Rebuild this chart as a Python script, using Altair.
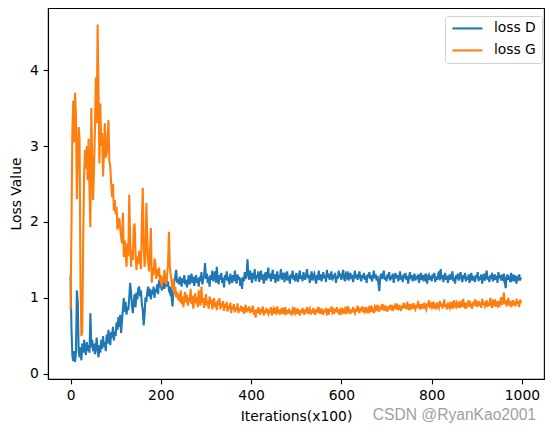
import altair as alt
import pandas as pd

# iterations (x100), sampled every 2 steps
ITER = list(range(0, 1000, 2))

LOSS_D = [
    1.30, 0.60, 0.25, 0.17, 0.30, 0.16, 0.28, 1.10, 0.95, 0.30,
    0.22, 0.35, 0.18, 0.40, 0.28, 0.45, 0.33, 0.25, 0.42, 0.30,
    0.38, 0.28, 0.80, 0.35, 0.45, 0.30, 0.40, 0.26, 0.36, 0.48,
    0.30, 0.22, 0.38, 0.28, 0.45, 0.33, 0.50, 0.36, 0.42, 0.30,
    0.52, 0.40, 0.58, 0.45, 0.38, 0.55, 0.48, 0.62, 0.44, 0.56,
    0.50, 0.68, 0.58, 0.75, 0.62, 0.78, 0.54, 0.70, 0.85, 1.00,
    0.82, 0.95, 0.78, 0.88, 0.84, 1.00, 1.20, 1.08, 0.90, 0.80,
    0.95, 1.05, 0.88, 1.07, 0.98, 1.12, 1.15, 1.02, 1.10, 0.92,
    0.85, 0.64, 0.78, 1.01, 0.95, 1.08, 1.15, 1.02, 1.12, 0.98,
    1.10, 1.05, 1.15, 1.00, 1.12, 1.08, 1.18, 1.05, 1.24, 1.14,
    1.20, 1.10, 1.15, 1.24, 1.12, 1.18, 1.28, 1.15, 1.22, 1.10,
    1.07, 1.15, 1.00, 0.89, 1.10, 1.22, 1.28, 1.37, 1.20, 1.25,
    1.18, 1.28, 1.22, 1.15, 1.26, 1.20, 1.30, 1.18, 1.24, 1.14,
    1.22, 1.30, 1.18, 1.25, 1.32, 1.20, 1.28, 1.16, 1.24, 1.30,
    1.20, 1.26, 1.15, 1.28, 1.22, 1.34, 1.18, 1.25, 1.30, 1.46,
    1.25, 1.32, 1.20, 1.28, 1.15, 1.30, 1.24, 1.36, 1.22, 1.28,
    1.35, 1.20, 1.41, 1.26, 1.18, 1.30, 1.24, 1.33, 1.20, 1.27,
    1.14, 1.30, 1.24, 1.35, 1.22, 1.28, 1.18, 1.32, 1.26, 1.20,
    1.30, 1.22, 1.36, 1.25, 1.19, 1.31, 1.24, 1.28, 1.16, 1.26,
    1.12, 1.28, 1.22, 1.34, 1.25, 1.30, 1.51, 1.30, 1.24, 1.36,
    1.28, 1.20, 1.33, 1.25, 1.38, 1.22, 1.30, 1.26, 1.35, 1.21,
    1.29, 1.36, 1.24, 1.31, 1.19, 1.28, 1.34, 1.23, 1.30, 1.40,
    1.26, 1.32, 1.22, 1.29, 1.37, 1.25, 1.31, 1.20, 1.28, 1.35,
    1.22, 1.30, 1.26, 1.38, 1.24, 1.29, 1.33, 1.21, 1.30, 1.27,
    1.35, 1.23, 1.29, 1.19, 1.31, 1.26, 1.36, 1.24, 1.30, 1.22,
    1.33, 1.27, 1.21, 1.30, 1.36, 1.25, 1.29, 1.22, 1.34, 1.28,
    1.24, 1.31, 1.38, 1.26, 1.30, 1.20, 1.28, 1.35, 1.23, 1.29,
    1.32, 1.25, 1.19, 1.30, 1.27, 1.36, 1.24, 1.31, 1.22, 1.28,
    1.34, 1.26, 1.30, 1.21, 1.37, 1.27, 1.32, 1.24, 1.29, 1.35,
    1.23, 1.30, 1.26, 1.33, 1.20, 1.29, 1.25, 1.36, 1.28, 1.32,
    1.24, 1.30, 1.37, 1.26, 1.22, 1.31, 1.28, 1.35, 1.23, 1.29,
    1.33, 1.25, 1.30, 1.21, 1.28, 1.36, 1.26, 1.31, 1.24, 1.29,
    1.35, 1.27, 1.22, 1.30, 1.26, 1.33, 1.24, 1.29, 1.20, 1.31,
    1.27, 1.34, 1.25, 1.30, 1.22, 1.28, 1.36, 1.26, 1.31, 1.23,
    1.29, 1.20, 1.09, 1.27, 1.32, 1.25, 1.30, 1.36, 1.24, 1.28,
    1.22, 1.31, 1.26, 1.34, 1.23, 1.29, 1.25, 1.32, 1.20, 1.28,
    1.33, 1.26, 1.30, 1.22, 1.27, 1.35, 1.24, 1.29, 1.21, 1.31,
    1.26, 1.33, 1.24, 1.29, 1.19, 1.28, 1.34, 1.25, 1.30, 1.22,
    1.27, 1.32, 1.23, 1.29, 1.25, 1.31, 1.20, 1.27, 1.33, 1.24,
    1.30, 1.22, 1.28, 1.25, 1.32, 1.19, 1.27, 1.30, 1.24, 1.29,
    1.22, 1.31, 1.26, 1.33, 1.21, 1.28, 1.24, 1.30, 1.35, 1.23,
    1.38, 1.25, 1.30, 1.21, 1.28, 1.33, 1.24, 1.29, 1.20, 1.27,
    1.31, 1.24, 1.29, 1.35, 1.22, 1.27, 1.19, 1.30, 1.25, 1.32,
    1.23, 1.28, 1.34, 1.26, 1.21, 1.30, 1.25, 1.33, 1.22, 1.28,
    1.24, 1.31, 1.20, 1.27, 1.33, 1.23, 1.29, 1.25, 1.21, 1.30,
    1.26, 1.34, 1.22, 1.28, 1.24, 1.31, 1.19, 1.27, 1.32, 1.23,
    1.29, 1.36, 1.24, 1.28, 1.21, 1.30, 1.25, 1.33, 1.22, 1.27,
    1.31, 1.24, 1.29, 1.20, 1.34, 1.26, 1.30, 1.23, 1.28, 1.25,
    1.32, 1.22, 1.13, 1.27, 1.31, 1.24, 1.29, 1.21, 1.33, 1.25,
    1.28, 1.22, 1.30, 1.25, 1.19, 1.29, 1.26, 1.31, 1.23, 1.27,
]

LOSS_G = [
    0.85, 1.90, 3.20, 3.60, 3.05, 3.70, 3.40, 2.30, 2.80, 3.25,
    3.10, 1.20, 0.50, 0.55, 1.75, 2.60, 2.95, 2.70, 3.00, 2.55,
    3.10, 2.40, 1.93, 3.50, 2.80, 2.29, 2.70, 3.20, 3.90, 3.30,
    4.60, 3.70, 2.77, 3.56, 3.00, 3.17, 2.60, 2.90, 3.30, 2.85,
    2.90, 3.10, 3.34, 2.80, 2.73, 2.50, 2.33, 2.50, 2.15, 2.29,
    2.10, 2.20, 1.90, 1.95, 2.05, 1.93, 1.80, 1.72, 2.12, 1.54,
    1.76, 1.60, 1.41, 1.72, 1.55, 2.36, 1.80, 1.41, 1.63, 1.50,
    1.93, 1.98, 1.60, 1.37, 1.55, 1.45, 1.62, 1.50, 1.38, 2.00,
    2.45, 1.70, 1.41, 1.55, 2.25, 1.80, 1.45, 1.35, 1.60, 1.92,
    1.20, 1.40, 1.30, 1.52, 1.46, 1.25, 1.38, 1.28, 1.40, 1.22,
    1.30, 1.15, 1.28, 1.20, 1.37, 1.25, 1.18, 1.30, 1.45, 1.87,
    1.41, 1.30, 1.20, 1.12, 1.25, 1.05, 1.15, 1.01, 1.08, 0.98,
    1.05, 0.95, 1.10, 0.92, 1.02, 0.88, 1.00, 1.08, 0.94, 1.04,
    0.90, 1.00, 0.95, 1.12, 0.92, 1.03, 0.86, 0.98, 1.06, 0.93,
    1.01, 0.88, 1.10, 0.95, 0.90, 1.15, 0.94, 1.00, 0.87, 0.97,
    1.05, 0.90, 0.96, 0.86, 1.02, 0.92, 0.98, 0.85, 0.95, 1.00,
    0.88, 0.94, 0.84, 0.97, 0.90, 1.00, 0.85, 0.93, 0.88, 0.96,
    0.83, 0.92, 0.87, 0.95, 0.82, 0.90, 0.86, 0.94, 0.80, 0.89,
    0.85, 0.92, 0.81, 0.88, 0.84, 0.93, 0.80, 0.87, 0.83, 0.90,
    0.82, 0.88, 0.79, 0.86, 0.91, 0.81, 0.87, 0.83, 0.89, 0.80,
    0.86, 0.82, 0.90, 0.78, 0.84, 0.74, 0.85, 0.80, 0.88, 0.82,
    0.78, 0.86, 0.81, 0.89, 0.77, 0.84, 0.80, 0.87, 0.82, 0.79,
    0.85, 0.80, 0.88, 0.77, 0.83, 0.86, 0.79, 0.84, 0.81, 0.89,
    0.80, 0.85, 0.78, 0.83, 0.87, 0.79, 0.84, 0.81, 0.88, 0.78,
    0.84, 0.80, 0.86, 0.79, 0.83, 0.77, 0.85, 0.82, 0.88, 0.80,
    0.83, 0.79, 0.86, 0.81, 0.77, 0.84, 0.80, 0.87, 0.82, 0.78,
    0.85, 0.81, 0.88, 0.79, 0.83, 0.86, 0.78, 0.84, 0.80, 0.87,
    0.82, 0.78, 0.85, 0.81, 0.88, 0.80, 0.84, 0.79, 0.86, 0.82,
    0.78, 0.85, 0.81, 0.87, 0.80, 0.83, 0.78, 0.86, 0.82, 0.89,
    0.81, 0.84, 0.79, 0.86, 0.82, 0.88, 0.80, 0.85, 0.78, 0.84,
    0.81, 0.87, 0.83, 0.79, 0.85, 0.82, 0.89, 0.80, 0.86, 0.83,
    0.79, 0.85, 0.81, 0.88, 0.83, 0.80, 0.86, 0.82, 0.90, 0.84,
    0.80, 0.87, 0.83, 0.89, 0.81, 0.85, 0.82, 0.88, 0.84, 0.80,
    0.86, 0.83, 0.90, 0.82, 0.87, 0.84, 0.80, 0.88, 0.85, 0.91,
    0.83, 0.87, 0.82, 0.89, 0.85, 0.92, 0.84, 0.88, 0.83, 0.90,
    0.86, 0.82, 0.89, 0.85, 0.91, 0.84, 0.88, 0.83, 0.90, 0.86,
    0.93, 0.85, 0.89, 0.84, 0.91, 0.87, 0.83, 0.90, 0.86, 0.94,
    0.87, 0.91, 0.85, 0.95, 0.88, 0.84, 0.92, 0.87, 0.90, 0.86,
    0.93, 0.88, 0.85, 0.91, 0.87, 0.96, 0.89, 0.85, 0.92, 0.88,
    0.90, 0.86, 0.94, 0.88, 0.85, 0.93, 0.89, 0.97, 0.87, 0.91,
    0.88, 0.95, 0.86, 0.92, 0.89, 0.85, 0.94, 0.90, 0.87, 0.96,
    0.89, 0.93, 0.86, 0.91, 0.98, 0.88, 0.92, 0.85, 0.94, 0.90,
    0.87, 0.95, 0.89, 0.92, 0.86, 0.97, 0.90, 0.88, 0.94, 0.91,
    0.87, 0.96, 0.90, 0.93, 0.88, 0.99, 0.91, 0.86, 0.94, 0.89,
    0.92, 0.97, 0.88, 0.93, 0.90, 0.86, 0.95, 0.91, 0.98, 0.89,
    0.93, 0.88, 0.96, 0.90, 0.94, 0.87, 0.99, 0.91, 0.95, 0.89,
    0.92, 0.97, 0.88, 0.94, 0.90, 1.00, 0.91, 0.87, 0.95, 0.92,
    0.98, 0.89, 0.93, 0.90, 0.96, 0.88, 0.94, 1.01, 0.91, 0.95,
    1.07, 0.92, 0.97, 0.89, 0.94, 1.00, 0.90, 0.96, 0.88, 0.93,
    0.97, 0.90, 0.95, 0.89, 0.99, 0.92, 0.96, 0.88, 0.98, 0.93,
]

SERIES = ["loss D", "loss G"]
COLORS = ["#1f77b4", "#ff7f0e"]

FONT = "DejaVu Sans"
PT = 100 / 72  # matplotlib points -> px at 100 dpi

df = pd.concat([
    pd.DataFrame({"iter": ITER, "loss": LOSS_D, "series": SERIES[0]}),
    pd.DataFrame({"iter": ITER, "loss": LOSS_G, "series": SERIES[1]}),
])

# legend handle: a 30px line starting at the left edge of a 10px symbol slot
HANDLE = "M-1,0H5"

lines = alt.Chart(df).mark_line(strokeWidth=1.5 * PT).encode(
    x=alt.X("iter:Q", title="Iterations(x100)",
            scale=alt.Scale(domain=[-49.95, 1048.95], nice=False, zero=False),
            axis=alt.Axis(values=[0, 200, 400, 600, 800, 1000], format="d",
                          titlePadding=7)),
    y=alt.Y("loss:Q", title="Loss Value",
            scale=alt.Scale(domain=[-0.066, 4.816], nice=False, zero=False),
            axis=alt.Axis(values=[0, 1, 2, 3, 4], format="d", titlePadding=6)),
    color=alt.Color("series:N", scale=alt.Scale(domain=SERIES, range=COLORS),
                    legend=alt.Legend(title=None, orient="none", legendX=397,
                                      legendY=8, symbolType=HANDLE,
                                      symbolSize=100, symbolStrokeWidth=1.5 * PT,
                                      labelFont=FONT, labelFontSize=10 * PT,
                                      labelColor="black", labelOffset=29.5,
                                      padding=5.5, rowPadding=7,
                                      strokeColor="#d0d0d0", cornerRadius=3,
                                      fillColor="white")),
)

watermark = alt.Chart(pd.DataFrame({"t": ["CSDN @RyanKao2001"]})).mark_text(
    font="Liberation Sans", fontSize=15.6, color="#a0a0a0", align="right",
    baseline="alphabetic").encode(
    x=alt.value(488), y=alt.value(412), text="t:N")

chart = (lines + watermark).properties(
    width=496, height=371,
    autosize=alt.AutoSizeParams(type="none"),
    padding={"left": 40, "top": 0, "right": 2, "bottom": 44},
).configure_view(stroke="black", strokeWidth=0.8 * PT).configure_axis(
    grid=False, domainColor="black", domainWidth=0.8 * PT,
    tickColor="black", tickSize=3.5 * PT, tickWidth=0.8 * PT,
    labelFont=FONT, labelFontSize=10 * PT, labelColor="black",
    labelPadding=3.5 * PT, titleFont=FONT, titleFontSize=10 * PT,
    titleFontWeight="normal", titleColor="black",
)

chart.save("out.html", embed_options={"renderer": "svg", "actions": False})
